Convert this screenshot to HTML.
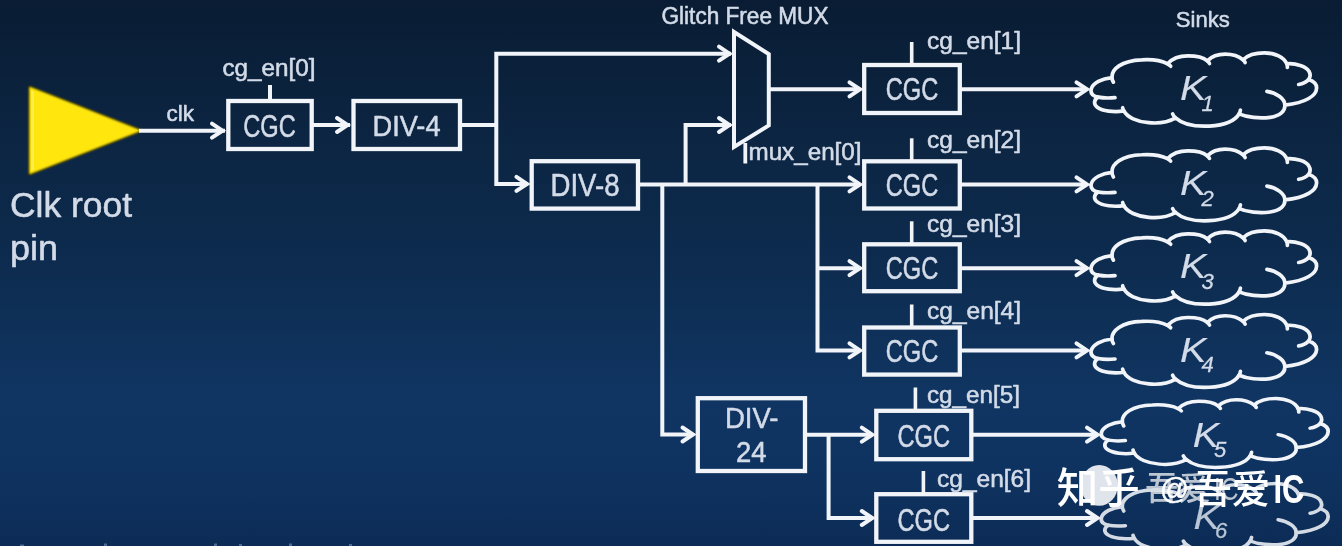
<!DOCTYPE html>
<html><head><meta charset="utf-8"><title>Clock tree</title>
<style>
html,body{margin:0;padding:0;background:#0d2749;}
body{width:1342px;height:546px;overflow:hidden;font-family:"Liberation Sans",sans-serif;}
svg{display:block;font-family:"Liberation Sans",sans-serif;}
</style></head><body>
<svg width="1342" height="546" viewBox="0 0 1342 546">
<defs>
<linearGradient id="bg" x1="0" y1="0" x2="0" y2="1">
<stop offset="0" stop-color="#091c33"/>
<stop offset="0.25" stop-color="#0c2542"/>
<stop offset="0.5" stop-color="#0d2c50"/>
<stop offset="0.72" stop-color="#103562"/>
<stop offset="0.85" stop-color="#0f3361"/>
<stop offset="1" stop-color="#0c2c56"/>
</linearGradient>
<filter id="soft" x="-10%" y="-10%" width="120%" height="120%"><feGaussianBlur stdDeviation="0.8"/></filter>
<filter id="wblur" x="-2%" y="-10%" width="104%" height="120%"><feGaussianBlur stdDeviation="0.5"/></filter>
<filter id="blur" x="-2%" y="-2%" width="104%" height="104%"><feGaussianBlur stdDeviation="0.75"/></filter>
</defs>
<rect width="1342" height="546" fill="url(#bg)"/>
<g filter="url(#blur)">
<polygon points="29.6,87 29.6,174 141,130.6" fill="none" stroke="#17190c" stroke-width="3.2" stroke-linejoin="round" opacity="0.85"/>
<polygon points="29.6,87 29.6,174 141,130.6" fill="#ffe70c" stroke="#f4dc14" stroke-width="1" stroke-linejoin="round" filter="url(#soft)"/>
<polygon points="31,90 31,171 34,169.5 34,91.5" fill="#fff27a" opacity="0.55"/>
<path d="M139 130.7 L225 130.7" fill="none" stroke="#f1f4f9" stroke-width="4.0" stroke-linejoin="miter"/>
<path d="M212 123.69999999999999 L222.5 130.7 L212 137.7" fill="none" stroke="#f1f4f9" stroke-width="4.0" stroke-linecap="round" stroke-linejoin="miter"/>
<text x="166.5" y="120.5" font-size="22" text-anchor="start" textLength="27.5" lengthAdjust="spacingAndGlyphs" fill="#d3dbe8" stroke="#d3dbe8" stroke-width="0.55" stroke-linejoin="round" font-weight="normal" >clk</text>
<text x="10" y="217" font-size="35" text-anchor="start" textLength="122" lengthAdjust="spacingAndGlyphs" fill="#d3dbe8" stroke="#d3dbe8" stroke-width="0.55" stroke-linejoin="round" font-weight="normal" >Clk root</text>
<text x="10" y="259.5" font-size="35" text-anchor="start" textLength="48" lengthAdjust="spacingAndGlyphs" fill="#d3dbe8" stroke="#d3dbe8" stroke-width="0.55" stroke-linejoin="round" font-weight="normal" >pin</text>
<rect x="228.3" y="101" width="83.39999999999998" height="48" fill="none" stroke="#f1f4f9" stroke-width="4.3"/>
<path d="M270 85 L270 100" fill="none" stroke="#f1f4f9" stroke-width="4.0" stroke-linejoin="miter"/>
<text x="222.5" y="75.8" font-size="23.5" text-anchor="start" textLength="93" lengthAdjust="spacingAndGlyphs" fill="#d3dbe8" stroke="#d3dbe8" stroke-width="0.55" stroke-linejoin="round" font-weight="normal" >cg_en[0]</text>
<text x="243.3" y="136.8" font-size="31.5" text-anchor="start" textLength="52.5" lengthAdjust="spacingAndGlyphs" fill="#d3dbe8" stroke="#d3dbe8" stroke-width="0.55" stroke-linejoin="round" font-weight="normal" >CGC</text>
<path d="M313 125 L350 125" fill="none" stroke="#f1f4f9" stroke-width="4.0" stroke-linejoin="miter"/>
<path d="M337 118 L347.5 125 L337 132" fill="none" stroke="#f1f4f9" stroke-width="4.0" stroke-linecap="round" stroke-linejoin="miter"/>
<rect x="353.5" y="101" width="106.5" height="48" fill="none" stroke="#f1f4f9" stroke-width="4.3"/>
<text x="372.5" y="136.4" font-size="30" text-anchor="start" textLength="68" lengthAdjust="spacingAndGlyphs" fill="#d3dbe8" stroke="#d3dbe8" stroke-width="0.55" stroke-linejoin="round" font-weight="normal" >DIV-4</text>
<path d="M460 125 L496.5 125" fill="none" stroke="#f1f4f9" stroke-width="4.0" stroke-linejoin="miter"/>
<path d="M731 53.7 L496.3 53.7 L496.3 183.9 L528 183.9" fill="none" stroke="#f1f4f9" stroke-width="4.0" stroke-linejoin="miter"/>
<path d="M719 46.7 L729.5 53.7 L719 60.7" fill="none" stroke="#f1f4f9" stroke-width="4.0" stroke-linecap="round" stroke-linejoin="miter"/>
<path d="M516.5 176.9 L527.0 183.9 L516.5 190.9" fill="none" stroke="#f1f4f9" stroke-width="4.0" stroke-linecap="round" stroke-linejoin="miter"/>
<rect x="531.7" y="161.2" width="106.29999999999995" height="47.400000000000006" fill="none" stroke="#f1f4f9" stroke-width="4.3"/>
<text x="550.5" y="195.8" font-size="30.5" text-anchor="start" textLength="69" lengthAdjust="spacingAndGlyphs" fill="#d3dbe8" stroke="#d3dbe8" stroke-width="0.55" stroke-linejoin="round" font-weight="normal" >DIV-8</text>
<path d="M638 184.4 L860 184.4" fill="none" stroke="#f1f4f9" stroke-width="4.0" stroke-linejoin="miter"/>
<path d="M849.5 177.4 L860.0 184.4 L849.5 191.4" fill="none" stroke="#f1f4f9" stroke-width="4.0" stroke-linecap="round" stroke-linejoin="miter"/>
<path d="M685.6 184.4 L685.6 125 L731 125" fill="none" stroke="#f1f4f9" stroke-width="4.0" stroke-linejoin="miter"/>
<path d="M719 118 L729.5 125 L719 132" fill="none" stroke="#f1f4f9" stroke-width="4.0" stroke-linecap="round" stroke-linejoin="miter"/>
<path d="M662.3 184.4 L662.3 434.5 L693 434.5" fill="none" stroke="#f1f4f9" stroke-width="4.0" stroke-linejoin="miter"/>
<path d="M682.5 427.5 L693.0 434.5 L682.5 441.5" fill="none" stroke="#f1f4f9" stroke-width="4.0" stroke-linecap="round" stroke-linejoin="miter"/>
<path d="M817.5 184.4 L817.5 350.4 L860 350.4" fill="none" stroke="#f1f4f9" stroke-width="4.0" stroke-linejoin="miter"/>
<path d="M849.5 343.4 L860.0 350.4 L849.5 357.4" fill="none" stroke="#f1f4f9" stroke-width="4.0" stroke-linecap="round" stroke-linejoin="miter"/>
<path d="M817.5 268.2 L860 268.2" fill="none" stroke="#f1f4f9" stroke-width="4.0" stroke-linejoin="miter"/>
<path d="M849.5 261.2 L860.0 268.2 L849.5 275.2" fill="none" stroke="#f1f4f9" stroke-width="4.0" stroke-linecap="round" stroke-linejoin="miter"/>
<polygon points="734,32 768.8,54 768.8,125.5 734,147" fill="none" stroke="#f1f4f9" stroke-width="4.0" stroke-linejoin="miter"/>
<path d="M745.3 143 L745.3 163.5" fill="none" stroke="#f1f4f9" stroke-width="3.8" stroke-linejoin="miter"/>
<text x="748.5" y="159.5" font-size="23.5" text-anchor="start" textLength="113" lengthAdjust="spacingAndGlyphs" fill="#d3dbe8" stroke="#d3dbe8" stroke-width="0.55" stroke-linejoin="round" font-weight="normal" >mux_en[0]</text>
<text x="661.5" y="24" font-size="23.5" text-anchor="start" textLength="167" lengthAdjust="spacingAndGlyphs" fill="#d3dbe8" stroke="#d3dbe8" stroke-width="0.55" stroke-linejoin="round" font-weight="normal" >Glitch Free MUX</text>
<path d="M768.8 89.3 L860 89.3" fill="none" stroke="#f1f4f9" stroke-width="4.0" stroke-linejoin="miter"/>
<path d="M849.5 82.3 L860.0 89.3 L849.5 96.3" fill="none" stroke="#f1f4f9" stroke-width="4.0" stroke-linecap="round" stroke-linejoin="miter"/>
<rect x="864.2" y="65" width="95.59999999999991" height="48" fill="none" stroke="#f1f4f9" stroke-width="4.3"/>
<path d="M911.7 42 L911.7 65" fill="none" stroke="#f1f4f9" stroke-width="3.6" stroke-linejoin="miter"/>
<text x="927" y="49.2" font-size="23.5" text-anchor="start" textLength="94" lengthAdjust="spacingAndGlyphs" fill="#d3dbe8" stroke="#d3dbe8" stroke-width="0.55" stroke-linejoin="round" font-weight="normal" >cg_en[1]</text>
<text x="885.8" y="100.05" font-size="31.5" text-anchor="start" textLength="52.5" lengthAdjust="spacingAndGlyphs" fill="#d3dbe8" stroke="#d3dbe8" stroke-width="0.55" stroke-linejoin="round" font-weight="normal" >CGC</text>
<path d="M959.8 89.3 L1087 89.3" fill="none" stroke="#f1f4f9" stroke-width="4.0" stroke-linejoin="miter"/>
<path d="M1076.5 82.3 L1087.0 89.3 L1076.5 96.3" fill="none" stroke="#f1f4f9" stroke-width="4.0" stroke-linecap="round" stroke-linejoin="miter"/>
<rect x="864.2" y="161.3" width="95.59999999999991" height="47.19999999999999" fill="none" stroke="#f1f4f9" stroke-width="4.3"/>
<path d="M911.7 138.3 L911.7 161.3" fill="none" stroke="#f1f4f9" stroke-width="3.6" stroke-linejoin="miter"/>
<text x="927" y="147.7" font-size="23.5" text-anchor="start" textLength="94" lengthAdjust="spacingAndGlyphs" fill="#d3dbe8" stroke="#d3dbe8" stroke-width="0.55" stroke-linejoin="round" font-weight="normal" >cg_en[2]</text>
<text x="885.8" y="195.95000000000002" font-size="31.5" text-anchor="start" textLength="52.5" lengthAdjust="spacingAndGlyphs" fill="#d3dbe8" stroke="#d3dbe8" stroke-width="0.55" stroke-linejoin="round" font-weight="normal" >CGC</text>
<path d="M959.8 184.4 L1087 184.4" fill="none" stroke="#f1f4f9" stroke-width="4.0" stroke-linejoin="miter"/>
<path d="M1076.5 177.4 L1087.0 184.4 L1076.5 191.4" fill="none" stroke="#f1f4f9" stroke-width="4.0" stroke-linecap="round" stroke-linejoin="miter"/>
<rect x="864.2" y="244.3" width="95.59999999999991" height="46.89999999999998" fill="none" stroke="#f1f4f9" stroke-width="4.3"/>
<path d="M911.7 221.3 L911.7 244.3" fill="none" stroke="#f1f4f9" stroke-width="3.6" stroke-linejoin="miter"/>
<text x="927" y="232.2" font-size="23.5" text-anchor="start" textLength="94" lengthAdjust="spacingAndGlyphs" fill="#d3dbe8" stroke="#d3dbe8" stroke-width="0.55" stroke-linejoin="round" font-weight="normal" >cg_en[3]</text>
<text x="885.8" y="278.8" font-size="31.5" text-anchor="start" textLength="52.5" lengthAdjust="spacingAndGlyphs" fill="#d3dbe8" stroke="#d3dbe8" stroke-width="0.55" stroke-linejoin="round" font-weight="normal" >CGC</text>
<path d="M959.8 268.2 L1087 268.2" fill="none" stroke="#f1f4f9" stroke-width="4.0" stroke-linejoin="miter"/>
<path d="M1076.5 261.2 L1087.0 268.2 L1076.5 275.2" fill="none" stroke="#f1f4f9" stroke-width="4.0" stroke-linecap="round" stroke-linejoin="miter"/>
<rect x="864.2" y="327.5" width="95.59999999999991" height="47.10000000000002" fill="none" stroke="#f1f4f9" stroke-width="4.3"/>
<path d="M911.7 304.5 L911.7 327.5" fill="none" stroke="#f1f4f9" stroke-width="3.6" stroke-linejoin="miter"/>
<text x="927" y="318.8" font-size="23.5" text-anchor="start" textLength="94" lengthAdjust="spacingAndGlyphs" fill="#d3dbe8" stroke="#d3dbe8" stroke-width="0.55" stroke-linejoin="round" font-weight="normal" >cg_en[4]</text>
<text x="885.8" y="362.1" font-size="31.5" text-anchor="start" textLength="52.5" lengthAdjust="spacingAndGlyphs" fill="#d3dbe8" stroke="#d3dbe8" stroke-width="0.55" stroke-linejoin="round" font-weight="normal" >CGC</text>
<path d="M959.8 350.4 L1087 350.4" fill="none" stroke="#f1f4f9" stroke-width="4.0" stroke-linejoin="miter"/>
<path d="M1076.5 343.4 L1087.0 350.4 L1076.5 357.4" fill="none" stroke="#f1f4f9" stroke-width="4.0" stroke-linecap="round" stroke-linejoin="miter"/>
<rect x="697.8" y="398.2" width="107.20000000000005" height="72.80000000000001" fill="none" stroke="#f1f4f9" stroke-width="4.3"/>
<text x="725" y="427.5" font-size="30" text-anchor="start" textLength="53.5" lengthAdjust="spacingAndGlyphs" fill="#d3dbe8" stroke="#d3dbe8" stroke-width="0.55" stroke-linejoin="round" font-weight="normal" >DIV-</text>
<text x="736" y="462" font-size="30" text-anchor="start" textLength="30.5" lengthAdjust="spacingAndGlyphs" fill="#d3dbe8" stroke="#d3dbe8" stroke-width="0.55" stroke-linejoin="round" font-weight="normal" >24</text>
<path d="M805 434.7 L872 434.7" fill="none" stroke="#f1f4f9" stroke-width="4.0" stroke-linejoin="miter"/>
<path d="M861.8 427.7 L872.3 434.7 L861.8 441.7" fill="none" stroke="#f1f4f9" stroke-width="4.0" stroke-linecap="round" stroke-linejoin="miter"/>
<path d="M828.6 434.7 L828.6 518 L872 518" fill="none" stroke="#f1f4f9" stroke-width="4.0" stroke-linejoin="miter"/>
<path d="M861.8 511 L872.3 518 L861.8 525" fill="none" stroke="#f1f4f9" stroke-width="4.0" stroke-linecap="round" stroke-linejoin="miter"/>
<rect x="876.3" y="410.8" width="95.0" height="48.39999999999998" fill="none" stroke="#f1f4f9" stroke-width="4.3"/>
<path d="M915.4 387.5 L915.4 411" fill="none" stroke="#f1f4f9" stroke-width="3.6" stroke-linejoin="miter"/>
<text x="927" y="403.2" font-size="23.5" text-anchor="start" textLength="93" lengthAdjust="spacingAndGlyphs" fill="#d3dbe8" stroke="#d3dbe8" stroke-width="0.55" stroke-linejoin="round" font-weight="normal" >cg_en[5]</text>
<text x="897.5" y="447" font-size="31.5" text-anchor="start" textLength="52.5" lengthAdjust="spacingAndGlyphs" fill="#d3dbe8" stroke="#d3dbe8" stroke-width="0.55" stroke-linejoin="round" font-weight="normal" >CGC</text>
<path d="M971.3 434.7 L1098 434.7" fill="none" stroke="#f1f4f9" stroke-width="4.0" stroke-linejoin="miter"/>
<path d="M1087 427.7 L1097.5 434.7 L1087 441.7" fill="none" stroke="#f1f4f9" stroke-width="4.0" stroke-linecap="round" stroke-linejoin="miter"/>
<rect x="876.3" y="494.2" width="95.0" height="47.599999999999966" fill="none" stroke="#f1f4f9" stroke-width="4.3"/>
<path d="M923.4 471 L923.4 494" fill="none" stroke="#f1f4f9" stroke-width="3.6" stroke-linejoin="miter"/>
<text x="937" y="487.2" font-size="23.5" text-anchor="start" textLength="94" lengthAdjust="spacingAndGlyphs" fill="#d3dbe8" stroke="#d3dbe8" stroke-width="0.55" stroke-linejoin="round" font-weight="normal" >cg_en[6]</text>
<text x="897.5" y="530.6" font-size="31.5" text-anchor="start" textLength="52.5" lengthAdjust="spacingAndGlyphs" fill="#d3dbe8" stroke="#d3dbe8" stroke-width="0.55" stroke-linejoin="round" font-weight="normal" >CGC</text>
<path d="M971.3 518 L1098 518" fill="none" stroke="#f1f4f9" stroke-width="4.0" stroke-linejoin="miter"/>
<path d="M1087 511 L1097.5 518 L1087 525" fill="none" stroke="#f1f4f9" stroke-width="4.0" stroke-linecap="round" stroke-linejoin="miter"/>
<text x="1175.8" y="27" font-size="22.5" text-anchor="start" textLength="54" lengthAdjust="spacingAndGlyphs" fill="#d3dbe8" stroke="#d3dbe8" stroke-width="0.55" stroke-linejoin="round" font-weight="normal" >Sinks</text>
<defs><g id="cloud"><path d="M1.3 36.6 C3 30 12 25.5 22.5 24.5 C22 16 32 7 52.9 6.2 C64 5.5 74 7.5 79.3 10.3 C84 5 92 2.2 100 2.2 C108 2.2 116 4 119.8 7.3 C124 3 130 0.4 138 0.4 C146 0.4 152 2.5 156.3 6.2 C161 1.5 169 -0.9 178 -0.9 C189 -0.9 198 3.5 200.9 10.3 C210 9.5 221 13 223.5 18 C225.5 21.5 225 24 223.2 26.5 C229 28.5 231.5 32 231.3 35.5 C231 43 221 50.5 198.9 52.9 C199.5 59 194 64 184 65.5 C173 67 160 65.5 152.2 62 C148 69 138 73.5 122 74.5 C107 75.3 94 72 87.4 66 C80 70.5 70 72 60 71 C48 70 38 65.5 34.7 58.9 C24 60.5 13 59 7.5 55 C3.5 52 4 47.5 8.3 44.7 C3 43.5 0.5 40.5 1.3 36.6 Z" fill="none" stroke="#f1f4f9" stroke-width="3.8" stroke-linejoin="round"/><path d="M8.3 44.7 C13 45.6 19 45.8 25.6 45.2" fill="none" stroke="#f1f4f9" stroke-width="3.8" stroke-linecap="round"/><path d="M22.5 24.5 C22.6 26.5 23.2 28 24 29.2" fill="none" stroke="#f1f4f9" stroke-width="3.8" stroke-linecap="round"/><path d="M223.2 26.5 C221 29 217.5 30.8 213 31.6" fill="none" stroke="#f1f4f9" stroke-width="3.8" stroke-linecap="round"/><path d="M198.9 52.9 C199 46.5 191 40.5 180.6 38.7" fill="none" stroke="#f1f4f9" stroke-width="3.8" stroke-linecap="round"/><path d="M34.7 58.9 C34 57.8 33.6 56.8 33.4 55.6" fill="none" stroke="#f1f4f9" stroke-width="3.8" stroke-linecap="round"/><path d="M152.2 62 C153 60.7 153.4 59.5 153.6 58" fill="none" stroke="#f1f4f9" stroke-width="3.8" stroke-linecap="round"/><path d="M87.4 66 C86 64.8 85 63.5 84.4 62" fill="none" stroke="#f1f4f9" stroke-width="3.8" stroke-linecap="round"/><path d="M79.3 10.3 C80.6 11 81.6 11.8 82.4 12.8" fill="none" stroke="#f1f4f9" stroke-width="3.8" stroke-linecap="round"/><path d="M119.8 7.3 C120.8 8.2 121.5 9 122 10" fill="none" stroke="#f1f4f9" stroke-width="3.8" stroke-linecap="round"/><path d="M156.3 6.2 C157.2 7 158 8 158.4 9" fill="none" stroke="#f1f4f9" stroke-width="3.8" stroke-linecap="round"/><path d="M200.9 10.3 C201.4 11.5 201.6 12.8 201.5 14" fill="none" stroke="#f1f4f9" stroke-width="3.8" stroke-linecap="round"/></g></defs>
<g opacity="1"><use href="#cloud" transform="translate(1089.9 53.8) scale(0.98 0.97)"/>
<text x="1180.1000000000001" y="100.19999999999999" font-size="35" text-anchor="start" textLength="26.5" lengthAdjust="spacingAndGlyphs" font-style="italic" fill="#d3dbe8" stroke="#d3dbe8" stroke-width="0.15" stroke-linejoin="round" font-weight="normal" >K</text>
<text x="1201.5000000000002" y="110.5" font-size="22" text-anchor="start" font-style="italic" fill="#d3dbe8" stroke="#d3dbe8" stroke-width="0.30" stroke-linejoin="round" font-weight="normal" >1</text>
</g>
<g opacity="1"><use href="#cloud" transform="translate(1089.9 148.8) scale(0.98 0.965)"/>
<text x="1180.1000000000001" y="195.20000000000002" font-size="35" text-anchor="start" textLength="26.5" lengthAdjust="spacingAndGlyphs" font-style="italic" fill="#d3dbe8" stroke="#d3dbe8" stroke-width="0.15" stroke-linejoin="round" font-weight="normal" >K</text>
<text x="1201.5000000000002" y="205.5" font-size="22" text-anchor="start" font-style="italic" fill="#d3dbe8" stroke="#d3dbe8" stroke-width="0.30" stroke-linejoin="round" font-weight="normal" >2</text>
</g>
<g opacity="1"><use href="#cloud" transform="translate(1089.9 231.8) scale(0.98 0.97)"/>
<text x="1180.1000000000001" y="278.2" font-size="35" text-anchor="start" textLength="26.5" lengthAdjust="spacingAndGlyphs" font-style="italic" fill="#d3dbe8" stroke="#d3dbe8" stroke-width="0.15" stroke-linejoin="round" font-weight="normal" >K</text>
<text x="1201.5000000000002" y="288.5" font-size="22" text-anchor="start" font-style="italic" fill="#d3dbe8" stroke="#d3dbe8" stroke-width="0.30" stroke-linejoin="round" font-weight="normal" >3</text>
</g>
<g opacity="1"><use href="#cloud" transform="translate(1089.9 315.4) scale(0.98 0.965)"/>
<text x="1180.1000000000001" y="361.79999999999995" font-size="35" text-anchor="start" textLength="26.5" lengthAdjust="spacingAndGlyphs" font-style="italic" fill="#d3dbe8" stroke="#d3dbe8" stroke-width="0.15" stroke-linejoin="round" font-weight="normal" >K</text>
<text x="1201.5000000000002" y="372.09999999999997" font-size="22" text-anchor="start" font-style="italic" fill="#d3dbe8" stroke="#d3dbe8" stroke-width="0.30" stroke-linejoin="round" font-weight="normal" >4</text>
</g>
<g opacity="1"><use href="#cloud" transform="translate(1100.1 399.3) scale(0.986 0.913)"/>
<text x="1192.6999999999998" y="447.3" font-size="35" text-anchor="start" textLength="26.5" lengthAdjust="spacingAndGlyphs" font-style="italic" fill="#d3dbe8" stroke="#d3dbe8" stroke-width="0.15" stroke-linejoin="round" font-weight="normal" >K</text>
<text x="1214.1" y="456.5" font-size="22" text-anchor="start" font-style="italic" fill="#d3dbe8" stroke="#d3dbe8" stroke-width="0.30" stroke-linejoin="round" font-weight="normal" >5</text>
</g>
<g opacity="0.88"><use href="#cloud" transform="translate(1100.1 484.4) scale(0.986 0.913)"/>
<text x="1193.6" y="528.6999999999999" font-size="35" text-anchor="start" textLength="26.5" lengthAdjust="spacingAndGlyphs" font-style="italic" fill="#d3dbe8" stroke="#d3dbe8" stroke-width="0.15" stroke-linejoin="round" font-weight="normal" >K</text>
<text x="1215.0" y="538.1999999999999" font-size="22" text-anchor="start" font-style="italic" fill="#d3dbe8" stroke="#d3dbe8" stroke-width="0.30" stroke-linejoin="round" font-weight="normal" >6</text>
</g>
</g><g filter="url(#wblur)">
<ellipse cx="1099.2" cy="485.4" rx="18.6" ry="20.4" fill="#e9ebf1" opacity="0.96"/>
<text x="1145" y="500.3" font-size="33" textLength="66.5" lengthAdjust="spacingAndGlyphs" font-family="&quot;Liberation Sans&quot;, &quot;Noto Sans CJK SC&quot;, sans-serif" font-weight="500" fill="#ffffff" opacity="0.72">吾爱</text>
<text x="1214" y="499.7" font-size="31" textLength="24.5" lengthAdjust="spacingAndGlyphs" font-family="&quot;Liberation Sans&quot;, &quot;Noto Sans CJK SC&quot;, sans-serif" fill="#ffffff" opacity="0.72">IC</text>
<text x="1056.7" y="503" font-size="42" textLength="83" lengthAdjust="spacingAndGlyphs" font-family="&quot;Liberation Sans&quot;, &quot;Noto Sans CJK SC&quot;, sans-serif" font-weight="500" fill="#ffffff">知乎</text>
<text x="1160" y="498.5" font-size="30" textLength="29" lengthAdjust="spacingAndGlyphs" font-family="&quot;Liberation Sans&quot;, &quot;Noto Sans CJK SC&quot;, sans-serif" fill="#ffffff" stroke="#ffffff" stroke-width="0.5">@</text>
<text x="1193.3" y="502.5" font-size="39" textLength="77" lengthAdjust="spacingAndGlyphs" font-family="&quot;Liberation Sans&quot;, &quot;Noto Sans CJK SC&quot;, sans-serif" font-weight="500" fill="#ffffff">吾爱</text>
<text x="1273.5" y="502.5" font-size="40" textLength="31" lengthAdjust="spacingAndGlyphs" font-family="&quot;Liberation Sans&quot;, &quot;Noto Sans CJK SC&quot;, sans-serif" font-weight="bold" fill="#ffffff">IC</text>
<g fill="#9fb3cf" opacity="0.45"><rect x="104" y="543.5" width="3" height="3"/><rect x="214" y="543.5" width="3" height="3"/><rect x="239" y="544" width="3" height="2"/><rect x="289" y="543.5" width="3" height="3"/><rect x="349" y="544" width="3" height="2"/><rect x="20" y="544.5" width="4" height="2"/></g>
</g>
</svg>
</body></html>
